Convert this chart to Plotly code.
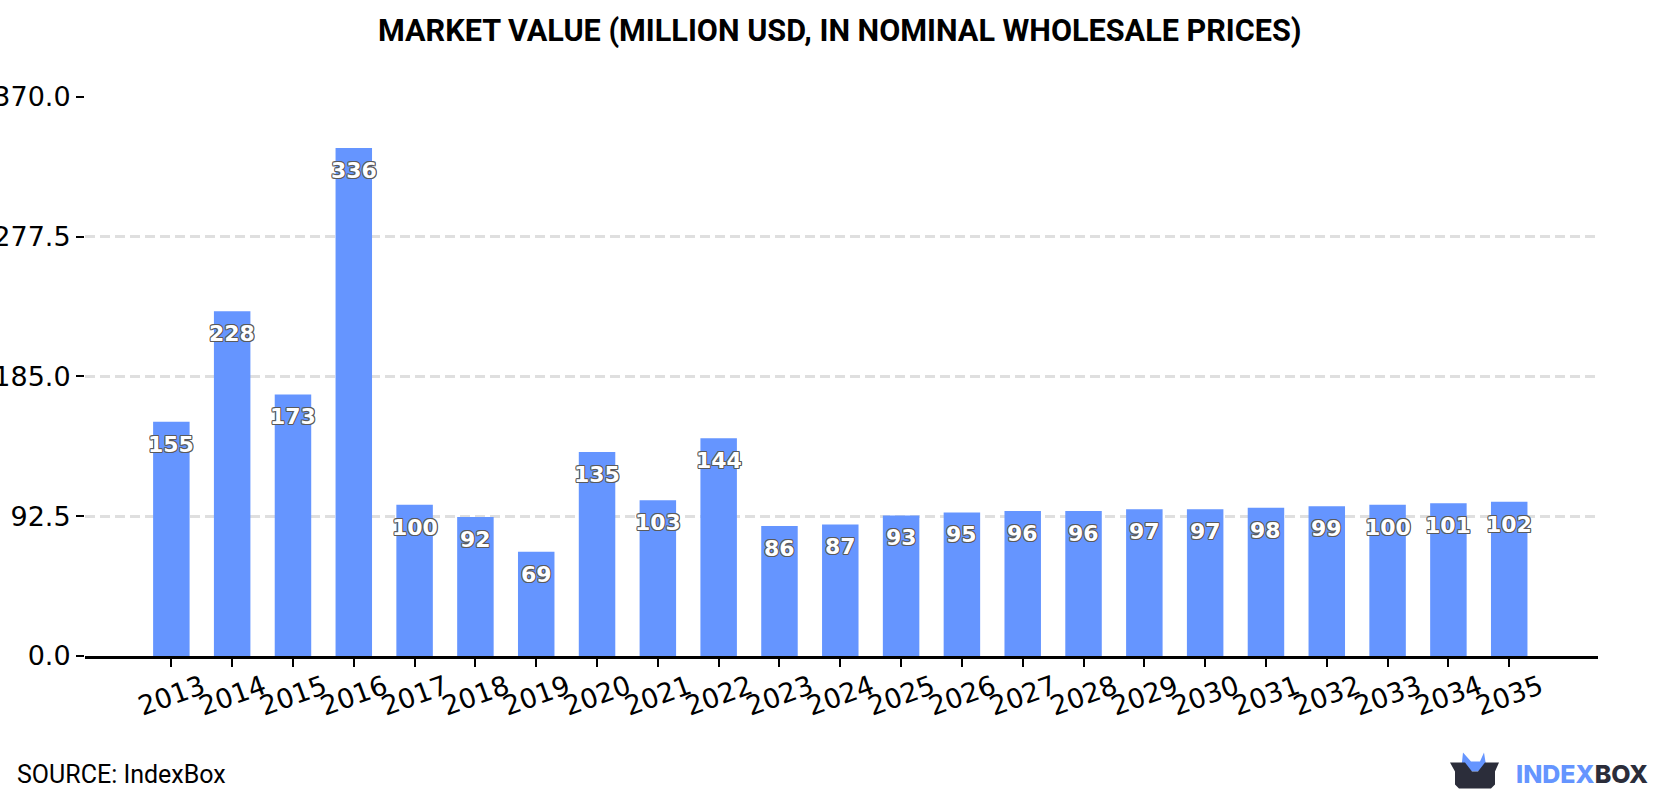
import plotly.graph_objects as go

years = list(range(2013, 2036))
values = [155, 228, 173, 336, 100, 92, 69, 135, 103, 144, 86, 87, 93, 95, 96, 96, 97, 97, 98, 99, 100, 101, 102]
y_ticks = [0, 92.5, 185, 277.5, 370]
y_tick_labels = ["0.0", "92.5", "185.0", "277.5", "370.0"]

WIDTH, HEIGHT = 1680, 800
LEFT, RIGHT, TOP, BOTTOM = 85, 82, 96, 143.5
BLUE = "#6595ff"
DARK = "#2b2d3a"


def px(x):
    return (x - LEFT) / (WIDTH - LEFT - RIGHT)


def py(y):
    return 1 - (y - TOP) / (HEIGHT - TOP - BOTTOM)


def path(points):
    return "M" + " L".join(f"{px(x):.5f},{py(y):.5f}" for x, y in points) + " Z"


fig = go.Figure(go.Bar(x=years, y=values, width=0.6, marker=dict(color=BLUE, line_width=0), hoverinfo="x+y"))

# Thin grey outline around the white value labels
offsets = [(-0.8, -0.8), (0.8, -0.8), (-0.8, 0.8), (0.8, 0.8), (0, -1), (0, 1), (-1, 0), (1, 0)]
halo = ",".join(f"{dx}px {dy}px 0 #5a5a5a" for dx, dy in offsets)
annotations = [
    dict(x=year, y=val, xref="x", yref="y", text=str(val), showarrow=False, yanchor="top", yshift=-8,
         font=dict(family="DejaVu Sans", size=22, color="white", weight="bold", shadow=halo))
    for year, val in zip(years, values)
]
annotations += [
    dict(x=px(839.5), y=py(31), xref="paper", yref="paper", text="<b>MARKET VALUE (MILLION USD, IN NOMINAL WHOLESALE PRICES)</b>",
         showarrow=False, xanchor="center", yanchor="middle", font=dict(family="Roboto", size=30.6, color="#000")),
    dict(x=px(15), y=py(775), xref="paper", yref="paper", text="SOURCE: IndexBox", showarrow=False,
         xanchor="left", yanchor="middle", font=dict(family="Roboto", size=25, color="#000")),
    dict(x=px(1514), y=py(775), xref="paper", yref="paper", showarrow=False, xanchor="left", yanchor="middle",
         text=f"<span style='color:{BLUE}'>INDEX</span><span style='color:{DARK}'>BOX</span>",
         font=dict(family="Inter", size=25, weight=800)),
]

# Logo: a dark open box with blue flaps showing above it
shapes = [
    dict(type="path", xref="paper", yref="paper", fillcolor=BLUE, line_width=0,
         path=path([(1461, 772), (1463, 753), (1471, 762), (1480, 762), (1484, 753), (1487, 772)])),
    dict(type="path", xref="paper", yref="paper", fillcolor=DARK, line_width=0,
         path=path([(1450, 763), (1465, 763), (1472, 772), (1478, 772), (1485, 763), (1499, 763), (1495, 772),
                    (1495, 785), (1491, 789), (1459, 789), (1455, 785), (1455, 772)])),
]

fig.update_layout(
    width=WIDTH, height=HEIGHT, autosize=False, template=None,
    margin=dict(l=LEFT, r=RIGHT, t=TOP, b=BOTTOM, autoexpand=False),
    paper_bgcolor="white", plot_bgcolor="white", showlegend=False,
    annotations=annotations, shapes=shapes,
    xaxis=dict(range=[2013 - 1.42, 2035 + 1.46], tickmode="array", tickvals=years, ticktext=[str(y) for y in years],
               tickangle=-20, ticks="outside", ticklen=8, tickwidth=2, tickcolor="#000", ticklabelshift=31,
               ticklabelstandoff=-6,
               showline=True, linecolor="#000", linewidth=3, showgrid=False, zeroline=False,
               tickfont=dict(family="DejaVu Sans", size=27, color="#000")),
    yaxis=dict(range=[0, 370.45], tickmode="array", tickvals=y_ticks, ticktext=y_tick_labels,
               ticks="outside", ticklen=8, tickwidth=2, tickcolor="#000", showline=False, zeroline=False,
               showgrid=True, gridcolor="#dfdfdf", gridwidth=2.5, griddash="10px,5px",
               tickfont=dict(family="DejaVu Sans", size=27, color="#000")),
)

fig.write_html("out.html", config=dict(displayModeBar=False))
